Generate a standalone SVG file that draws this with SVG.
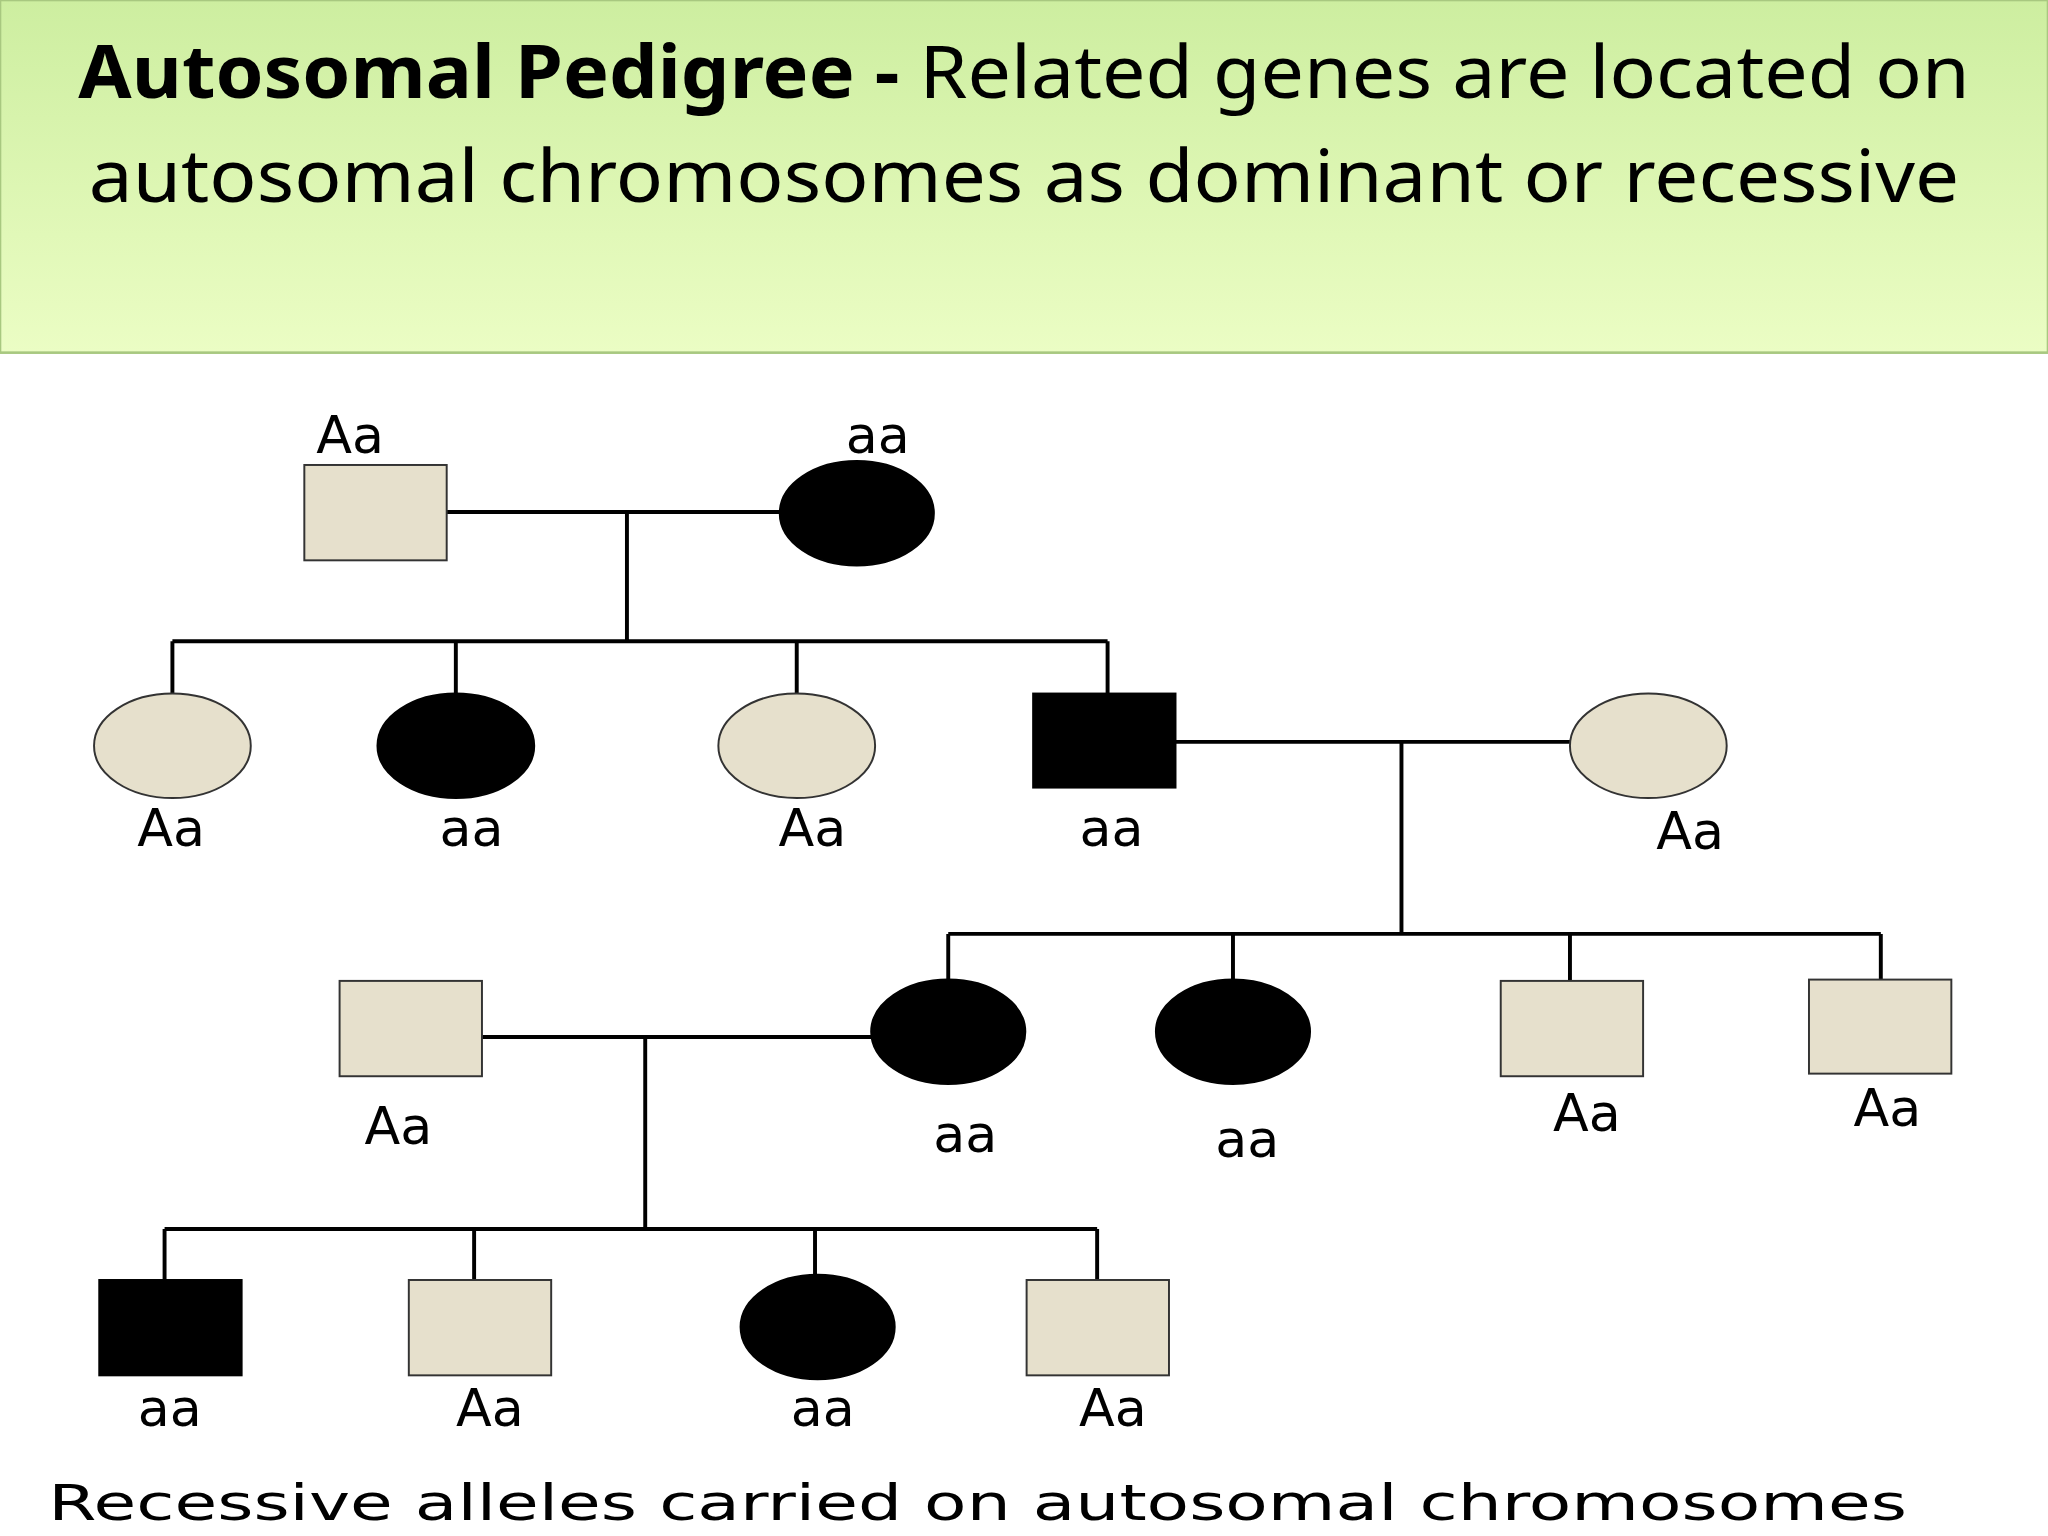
<svg xmlns="http://www.w3.org/2000/svg" width="2048" height="1536" viewBox="0 0 2048 1536">
<defs>
<linearGradient id="hg" x1="0" y1="0" x2="0" y2="1"><stop offset="0" stop-color="#cdeea0"/><stop offset="1" stop-color="#ebfdc4"/></linearGradient>
<style>
.l{fill:#e6e0cc;stroke:#333;stroke-width:1.5}
.d{fill:#000;stroke:#000;stroke-width:1.5}
.c{stroke:#000;stroke-width:3;fill:none}
.t{font-family:"DejaVu Sans",sans-serif;font-size:40px;text-anchor:middle;fill:#000}
.h{font-family:"Noto Sans",sans-serif;font-size:56px;fill:#000}
</style>
</defs>
<rect width="2048" height="1536" fill="#fff"/>
<g transform="scale(1.30612)">
<g id="header">
<rect x="0" y="0" width="1568" height="270" fill="url(#hg)" stroke="#a8c880" stroke-width="2"/>
<text class="h" x="60" y="75" textLength="1448" lengthAdjust="spacingAndGlyphs"><tspan font-weight="bold">Autosomal Pedigree - </tspan>Related genes are located on</text>
<text class="h" x="68" y="155" textLength="1432" lengthAdjust="spacingAndGlyphs">autosomal chromosomes as dominant or recessive</text>
</g>
<g id="connectors">
<path class="c" d="M342 392H597M480 392V491M132 491H848M132 491V531M349 491V531M610 491V531M848 491V531"/>
<path class="c" d="M900 568H1202M1073 568V715M726 715H1440M726 715V750M944 715V750M1202 715V751M1440 715V750"/>
<path class="c" d="M369 794H667M494 794V941M126 941H840M126 941V980M363 941V980M624 941V976M840 941V980"/>
</g>
<g id="n1"><rect class="l" x="233" y="356" width="109" height="73"/><text class="t" x="268" y="347">Aa</text></g>
<g id="n2"><ellipse class="d" cx="656" cy="393" rx="59" ry="40"/><text class="t" x="672" y="347">aa</text></g>
<g id="n3"><ellipse class="l" cx="132" cy="571" rx="60" ry="40"/><text class="t" x="131" y="648">Aa</text></g>
<g id="n4"><ellipse class="d" cx="349" cy="571" rx="60" ry="40"/><text class="t" x="361" y="648">aa</text></g>
<g id="n5"><ellipse class="l" cx="610" cy="571" rx="60" ry="40"/><text class="t" x="622" y="648">Aa</text></g>
<g id="n6"><rect class="d" x="791" y="531" width="109" height="72"/><text class="t" x="851" y="648">aa</text></g>
<g id="n7"><ellipse class="l" cx="1262" cy="571" rx="60" ry="40"/><text class="t" x="1294" y="650">Aa</text></g>
<g id="n8"><ellipse class="d" cx="726" cy="790" rx="59" ry="40"/><text class="t" x="739" y="882">aa</text></g>
<g id="n9"><ellipse class="d" cx="944" cy="790" rx="59" ry="40"/><text class="t" x="955" y="886">aa</text></g>
<g id="n10"><rect class="l" x="1149" y="751" width="109" height="73"/><text class="t" x="1215" y="866">Aa</text></g>
<g id="n11"><rect class="l" x="1385" y="750" width="109" height="72"/><text class="t" x="1445" y="862">Aa</text></g>
<g id="n12"><rect class="l" x="260" y="751" width="109" height="73"/><text class="t" x="305" y="876">Aa</text></g>
<g id="n13"><rect class="d" x="76" y="980" width="109" height="73"/><text class="t" x="130" y="1092">aa</text></g>
<g id="n14"><rect class="l" x="313" y="980" width="109" height="73"/><text class="t" x="375" y="1092">Aa</text></g>
<g id="n15"><ellipse class="d" cx="626" cy="1016" rx="59" ry="40"/><text class="t" x="630" y="1092">aa</text></g>
<g id="n16"><rect class="l" x="786" y="980" width="109" height="73"/><text class="t" x="852" y="1092">Aa</text></g>
<text x="37" y="1164" font-family="DejaVu Sans,sans-serif" font-size="38" textLength="1423" lengthAdjust="spacingAndGlyphs">Recessive alleles carried on autosomal chromosomes</text>
</g>
</svg>
